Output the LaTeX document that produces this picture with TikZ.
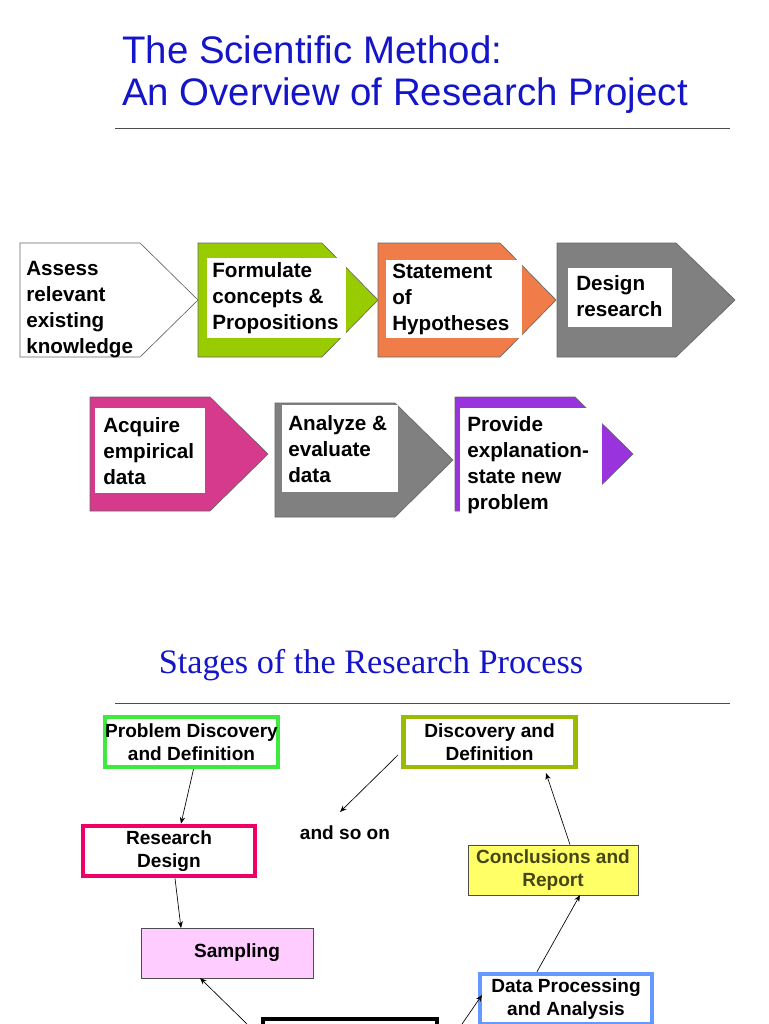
\documentclass[tikz,border=0pt]{standalone}
\usepackage{fontspec}
\setmainfont{Liberation Sans}
\newfontfamily\serifnew{Liberation Serif}
\usetikzlibrary{arrows.meta}
\definecolor{ttl}{RGB}{20,20,200}
\definecolor{cgreen}{RGB}{153,204,0}
\definecolor{corange}{RGB}{240,124,74}
\definecolor{cgray}{RGB}{128,128,128}
\definecolor{cmag}{RGB}{214,58,140}
\definecolor{cpurp}{RGB}{153,51,221}
\definecolor{bgreen}{RGB}{60,235,60}
\definecolor{bolive}{RGB}{153,187,0}
\definecolor{bred}{RGB}{238,0,102}
\definecolor{byel}{RGB}{255,255,102}
\definecolor{ytext}{RGB}{70,70,20}
\definecolor{bpink}{RGB}{255,204,255}
\definecolor{bblue}{RGB}{102,153,255}
\begin{document}
\begin{tikzpicture}[x=0.75pt,y=-0.75pt,
  chev/.style={draw=black!60,line width=0.5pt},
  ctext/.style={anchor=north west,align=left,font=\fontsize{15.5}{19.5}\selectfont\bfseries,inner sep=0pt},
  sbox/.style={draw=#1,line width=3.5pt,fill=white,minimum width=129pt,minimum height=37.5pt,inner sep=0pt},
  btext/.style={align=center,font=\fontsize{14.3}{17}\selectfont\bfseries},
  con/.style={-{Stealth[length=5pt,width=4pt]},line width=0.5pt}]
\useasboundingbox (0,0) rectangle (768,1024);
% titles
\node[anchor=west,text=ttl,font=\fontsize{28.8}{33}\selectfont,align=left,inner sep=0pt] (t1) at (122,50) {The Scientific Method:};
\node[anchor=west,text=ttl,font=\fontsize{28.8}{33}\selectfont,align=left,inner sep=0pt] (t2) at (122,96) {An Overview of Research Project};
\draw[black!70,line width=0.6pt] (115,128) -- (730,128);
% row 1
\draw[chev,fill=white] (20,243)--(140,243)--(198,300)--(140,357)--(20,357)--cycle;
\node[ctext] (a1) at (26,261) {Assess\\relevant\\existing\\knowledge};
\draw[chev,fill=cgreen] (198,243)--(322,243)--(378,300)--(322,357)--(198,357)--cycle;
\fill[white] (207,258) rectangle (346,338);
\node[ctext] (a2) at (212,262) {Formulate\\concepts \&\\Propositions};
\draw[chev,fill=corange] (378,243)--(500,243)--(556,300)--(500,357)--(378,357)--cycle;
\fill[white] (386,260) rectangle (522,338);
\node[ctext] (a3) at (392,264) {Statement\\of\\Hypotheses};
\draw[chev,fill=cgray] (557,243)--(676,243)--(735,300)--(676,357)--(557,357)--cycle;
\fill[white] (568,268) rectangle (672,327);
\node[ctext] (a4) at (576,275) {Design\\research};
% row 2
\draw[chev,fill=cmag] (90,397)--(210,397)--(268,454)--(210,511)--(90,511)--cycle;
\fill[white] (95,408) rectangle (205,493);
\node[ctext] (a5) at (103,417) {Acquire\\empirical\\data};
\draw[chev,fill=cgray] (275,403)--(395,403)--(453,460)--(395,517)--(275,517)--cycle;
\fill[white] (282,405) rectangle (398,492);
\node[ctext] (a6) at (288,415) {Analyze \&\\evaluate\\data};
\draw[chev,fill=cpurp] (455,397)--(575,397)--(633,454)--(575,511)--(455,511)--cycle;
\fill[white] (460,408) rectangle (602,515);
\node[ctext] (a7) at (467,416) {Provide\\explanation-\\state new\\problem};
% stages
\node[text=ttl,font=\serifnew\fontsize{25.7}{30}\selectfont,inner sep=0pt] (t3) at (371,665) {Stages of the Research Process};
\draw[black!70,line width=0.6pt] (115,703) -- (730,703);
\node[sbox=bgreen,btext] (pd) at (191.5,742) {Problem Discovery\\and Definition};
\node[sbox=bolive,btext] (dd) at (489.5,742) {Discovery and\\Definition};
\node[sbox=bred,btext] (rd) at (169,851) {Research\\Design};
\node[draw=black!70,line width=0.6pt,fill=byel,minimum width=127.5pt,minimum height=37.5pt,btext,text=ytext] (cr) at (553,870) {Conclusions and\\Report};
\node[draw=black!70,line width=0.6pt,fill=bpink,minimum width=129pt,minimum height=37.5pt,btext] (sa) at (227,953) {\hspace{15pt}Sampling};
\node[sbox=bblue,btext] (dp) at (566,999) {Data Processing\\and Analysis};
\draw[black,line width=3pt] (263,1040) -- (263,1019) -- (437,1019) -- (437,1040);
\node[font=\fontsize{14.3}{15}\selectfont\bfseries] (so) at (345,833) {and so on};
\coordinate (b1) at (247,1024);
\coordinate (b2) at (462,1024);
\coordinate (d1) at (398,755);
\coordinate (d2) at (340,812);
\draw[con] (pd.south) ++(2,0) -- (rd.north -| 181,0);
\draw[con] (rd.south) ++(6,0) -- (181,928);
\draw[con] (b1) -- (200,978);
\draw[con] (b2) -- (482,995);
\draw[con] (dp.north) ++(-29,0) -- (580,895);
\draw[con] (cr.north) ++(17,0) -- (546,773);
\draw[con] (d1) -- (d2);
\end{tikzpicture}
\end{document}
